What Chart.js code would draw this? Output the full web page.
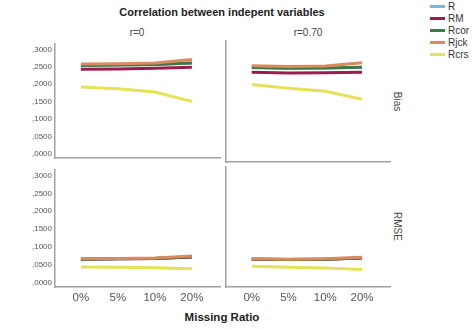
<!DOCTYPE html>
<html>
<head>
<meta charset="utf-8">
<script src="https://cdn.jsdelivr.net/npm/chart.js@4"></script>
<style>
  body { margin: 0; background: #fff; font-family: "Liberation Sans", Arial, sans-serif; }
  #wrap { position: relative; width: 474px; height: 330px; overflow: hidden; }
  canvas { position: absolute; }
  .txt { position: absolute; white-space: nowrap; color: #222; }
  .lg { position: absolute; left: 430px; font-size: 10px; color: #333; line-height: 10px; }
  .lg span { display: inline-block; width: 15px; height: 3px; vertical-align: middle; margin-right: 3px; margin-top: -2px; }
</style>
</head>
<body>
<div id="wrap">
  <div class="txt" style="left:0;width:444px;top:6px;text-align:center;font-weight:bold;font-size:11px;">Correlation between indepent variables</div>
  <div class="txt" style="left:107px;width:60px;top:27px;text-align:center;font-size:10px;color:#444;">r=0</div>
  <div class="txt" style="left:278px;width:60px;top:27px;text-align:center;font-size:10px;color:#444;">r=0.70</div>
  <div class="txt" style="left:377px;width:40px;top:96px;text-align:center;font-size:10px;color:#444;transform:rotate(90deg);">Bias</div>
  <div class="txt" style="left:377px;width:40px;top:221px;text-align:center;font-size:10px;color:#444;transform:rotate(90deg);">RMSE</div>
  <div class="txt" style="left:152px;width:140px;top:311px;text-align:center;font-weight:bold;font-size:11.5px;">Missing Ratio</div>
  <div id="legend"></div>
  <canvas id="c0"></canvas>
  <canvas id="c1"></canvas>
  <canvas id="c2"></canvas>
  <canvas id="c3"></canvas>
</div>
<script>
var ratios = ["0%", "5%", "10%", "20%"];
var methods = ["R", "RM", "Rcor", "Rjck", "Rcrs"];
var colors = ["#7ab6d6", "#9c1c4e", "#3d7a44", "#d98a5e", "#e6e258"];

// Bias, r=0
var biasR0 = {
    R:    [0.254, 0.255, 0.257, 0.261],
    RM:   [0.243, 0.244, 0.246, 0.249],
    Rcor: [0.254, 0.255, 0.257, 0.261],
    Rjck: [0.258, 0.259, 0.261, 0.271],
    Rcrs: [0.192, 0.187, 0.178, 0.151]
};
// Bias, r=0.70
var biasR70 = {
    R:    [0.244, 0.242, 0.243, 0.245],
    RM:   [0.231, 0.229, 0.230, 0.231],
    Rcor: [0.244, 0.242, 0.243, 0.245],
    Rjck: [0.249, 0.247, 0.248, 0.257],
    Rcrs: [0.198, 0.188, 0.180, 0.158]
};
// RMSE, r=0
var rmseR0 = {
    R:    [0.066, 0.067, 0.068, 0.072],
    RM:   [0.066, 0.067, 0.068, 0.072],
    Rcor: [0.066, 0.067, 0.068, 0.073],
    Rjck: [0.067, 0.068, 0.069, 0.075],
    Rcrs: [0.044, 0.043, 0.042, 0.039]
};
// RMSE, r=0.70
var rmseR70 = {
    R:    [0.064, 0.063, 0.064, 0.067],
    RM:   [0.064, 0.063, 0.064, 0.067],
    Rcor: [0.064, 0.063, 0.064, 0.068],
    Rjck: [0.065, 0.064, 0.065, 0.069],
    Rcrs: [0.045, 0.042, 0.040, 0.036]
};
var yTicks = [0, 0.05, 0.1, 0.15, 0.2, 0.25, 0.3];

var lg = document.getElementById("legend");
methods.forEach(function (m, i) {
    var d = document.createElement("div");
    d.className = "lg";
    d.style.top = (2 + i * 12) + "px";
    d.innerHTML = '<span style="background:' + colors[i] + '"></span>' + m;
    lg.appendChild(d);
});

function makePanel(id, box, data, showY, showX) {
    var cv = document.getElementById(id);
    cv.style.left = box.left + "px";
    cv.style.top = box.top + "px";
    cv.width = box.w; cv.height = box.h;
    cv.style.width = box.w + "px"; cv.style.height = box.h + "px";
    var sets = methods.map(function (m, i) {
        return {
            label: m,
            data: data[m].map(function (v, k) { return { x: k, y: v }; }),
            borderColor: colors[i],
            borderWidth: 3,
            pointRadius: 0,
            fill: false,
            tension: 0,
            order: methods.length - i // later series drawn on top
        };
    });
    new Chart(cv.getContext("2d"), {
        type: "line",
        data: { datasets: sets },
        options: {
            responsive: false,
            animation: false,
            layout: { padding: box.pad },
            plugins: { legend: { display: false }, tooltip: { enabled: false } },
            scales: {
                x: {
                    type: "linear", min: -0.7, max: 3.76,
                    grid: { display: false, drawTicks: false },
                    border: { display: true, color: "#a0a0a0", width: 1.5 },
                    afterBuildTicks: function (s) { s.ticks = [0, 1, 2, 3].map(function (v) { return { value: v }; }); },
                    afterFit: function (s) { s.height = box.xh; },
                    ticks: {
                        display: showX, padding: 4, color: "#555", autoSkip: false, maxRotation: 0,
                        font: { size: 11.5, family: "Liberation Sans" },
                        callback: function (v) { return ratios[v]; }
                    }
                },
                y: {
                    min: -0.012, max: 0.316,
                    grid: { display: false, drawTicks: false },
                    border: { display: true, color: "#a0a0a0", width: 1.5 },
                    afterBuildTicks: function (s) { s.ticks = yTicks.map(function (v) { return { value: v }; }); },
                    afterFit: function (s) { s.width = box.yw; },
                    ticks: {
                        display: showY, padding: 3, color: "#555",
                        font: { size: 8, family: "Liberation Sans" },
                        callback: function (v) { return "," + Math.round(v * 10000).toString().padStart(4, "0"); }
                    }
                }
            }
        }
    });
}

makePanel("c0", { left: 0, top: 36, w: 224, h: 130, yw: 55, xh: 0, pad: { left: 0, right: 4, top: 5, bottom: 4 } }, biasR0, true, false);
makePanel("c1", { left: 224, top: 36, w: 170, h: 130, yw: 2, xh: 0, pad: { left: 0, right: 4, top: 5, bottom: 4 } }, biasR70, false, false);
makePanel("c2", { left: 0, top: 162, w: 224, h: 142, yw: 55, xh: 17, pad: { left: 0, right: 4, top: 5, bottom: 0 } }, rmseR0, true, true);
makePanel("c3", { left: 224, top: 162, w: 170, h: 142, yw: 2, xh: 17, pad: { left: 0, right: 4, top: 5, bottom: 0 } }, rmseR70, false, true);
</script>
</body>
</html>
